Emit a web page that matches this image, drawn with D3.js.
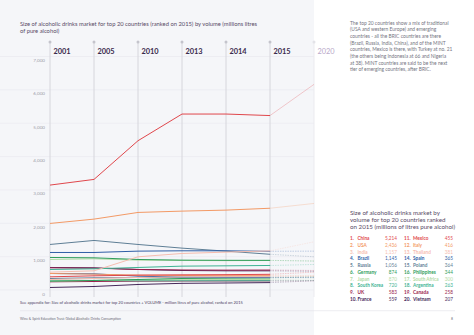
<!DOCTYPE html>
<html>
<head>
<meta charset="utf-8">
<script src="https://cdn.jsdelivr.net/npm/d3@7"></script>
<style>
	body { margin: 0; background: #fff; }
	svg { display: block; font-family: Lato, "Open Sans", sans-serif; }
</style>
</head>
<body>
<svg id="chart" width="474" height="335"></svg>
<script>
// years on the timeline, last one is the projection
const years = ["2001", "2005", "2010", "2013", "2014", "2015", "2020"];
const yTicks = [0, 1000, 2000, 3000, 4000, 5000, 6000, 7000];

const countries = ["China", "USA", "India", "Brazil", "Russia", "Germany", "Japan", "South Korea", "UK", "France",
	"Mexico", "Italy", "Thailand", "Spain", "Poland", "Philippines", "South Africa", "Argentina", "Canada", "Vietnam"];
const volume2015 = [5214, 2436, 1157, 1145, 1056, 874, 870, 720, 583, 559, 455, 416, 381, 365, 364, 344, 300, 263, 258, 207];

// volume per year (millions litres pure alcohol), 2001 .. 2015 + 2020 projection
const china = [3130, 3300, 4460, 5260, 5260, 5214, 6150];
const usa = [1980, 2110, 2310, 2350, 2380, 2436, 2580];
const india = [520, 560, 980, 1080, 1120, 1157, 1430];
const brazil = [1110, 1110, 1150, 1160, 1160, 1145, 1150];
const russia = [1350, 1470, 1350, 1240, 1150, 1056, 980];
const germany = [960, 950, 900, 880, 875, 874, 850];
const japan = [900, 920, 880, 870, 865, 870, 860];
const southKorea = [600, 620, 660, 700, 710, 720, 750];
const uk = [650, 640, 600, 585, 580, 583, 570];
const france = [660, 650, 600, 570, 560, 559, 540];
const mexico = [380, 410, 430, 440, 445, 455, 520];
const italy = [480, 460, 430, 420, 415, 416, 400];
const thailand = [300, 330, 360, 375, 380, 381, 420];
const spain = [480, 470, 400, 370, 365, 365, 360];
const poland = [330, 350, 360, 365, 363, 364, 370];
const philippines = [250, 270, 300, 330, 340, 344, 380];
const southAfrica = [250, 270, 290, 295, 298, 300, 320];
const argentina = [280, 270, 260, 262, 262, 263, 270];
const canada = [230, 240, 250, 255, 257, 258, 265];
const vietnam = [60, 90, 150, 185, 195, 207, 260];

const seriesValues = [china, usa, india, brazil, russia, germany, japan, southKorea, uk, france,
	mexico, italy, thailand, spain, poland, philippines, southAfrica, argentina, canada, vietnam];

const palette = ["#e0474c", "#f39a66", "#f6bdb0", "#2f5ea6", "#5f7f96", "#2f9d5b", "#b3dba6", "#3eb393", "#9a1f4d", "#46295a"];

const paragraph = [
	"The top 20 countries show a mix of traditional",
	"(USA and western Europe) and emerging",
	"countries - all the BRIC countries are there",
	"(Brazil, Russia, India, China), and of the MINT",
	"countries, Mexico is there, with Turkey at no. 21",
	"(the others being Indonesia at 66 and Nigeria",
	"at 38). MINT countries are said to be the next",
	"tier of emerging countries, after BRIC."
];

const svg = d3.select("#chart");

// left panel background
svg.append("rect").attr("x", 0).attr("y", 0).attr("width", 314).attr("height", 335).attr("fill", "#f5f6f9");

const x = d3.scalePoint().domain(years).range([50, 314]);
const y = d3.scaleLinear().domain([0, 7000]).range([289.5, 56]);

// horizontal grid
const grid = svg.append("g").attr("transform", "translate(314,0)")
	.call(d3.axisLeft(y).tickValues(yTicks).tickSize(314).tickFormat(""));
grid.select(".domain").remove();
grid.selectAll(".tick line").attr("stroke", "#e9eaef").attr("stroke-width", 0.7);

// y labels
const yAxis = svg.append("g").attr("transform", "translate(45,0)")
	.call(d3.axisLeft(y).tickValues(yTicks).tickSize(0).tickPadding(0).tickFormat(d3.format(",")));
yAxis.select(".domain").remove();
yAxis.selectAll(".tick text")
	.attr("dy", "5.5")
	.attr("fill", "#9c9ca8")
	.style("font-size", "4.6px")
	.style("font-family", "Lato, sans-serif");

// year markers
const yearG = svg.append("g").selectAll("g").data(years).enter().append("g")
	.attr("transform", d => "translate(" + x(d) + ",0)");
yearG.append("line")
	.attr("y1", 42).attr("y2", 297)
	.attr("stroke", d => d === "2020" ? "#ebebef" : "#d6d6dc")
	.attr("stroke-width", 1);
yearG.append("circle")
	.attr("cy", 42).attr("r", 1.5)
	.attr("fill", d => d === "2020" ? "#e3e3e8" : "#c4c4cc");
yearG.append("text")
	.attr("x", 3.5).attr("y", 54)
	.text(d => d)
	.attr("fill", d => d === "2020" ? "#b9a9c9" : "#3a2a4c")
	.style("font-weight", d => d === "2020" ? 400 : 700)
	.style("font-size", "7.4px");

// lines
const line = d3.line()
	.x((d, i) => x(years[i]))
	.y(d => y(d));
const proj = d3.line()
	.x((d, i) => x(years[i + 5]))
	.y(d => y(d));

const order = d3.range(seriesValues.length).reverse();
const linesG = svg.append("g");
order.forEach(i => {
	const vals = seriesValues[i];
	const color = palette[i % 10];
	linesG.append("path")
		.attr("d", proj(vals.slice(5)))
		.attr("fill", "none")
		.attr("stroke", color)
		.attr("stroke-width", 0.8)
		.attr("stroke-opacity", 0.35)
		.attr("stroke-dasharray", i < 2 ? null : "1.5,1");
	linesG.append("path")
		.attr("d", line(vals.slice(0, 6)))
		.attr("fill", "none")
		.attr("stroke", color)
		.attr("stroke-width", 1);
});

// title
svg.append("text").attr("x", 20).attr("y", 26)
	.attr("fill", "#574a66").style("font-size", "5.8px")
	.text("Size of alcoholic drinks market for top 20 countries (ranked on 2015) by volume (millions litres");
svg.append("text").attr("x", 20).attr("y", 33)
	.attr("fill", "#574a66").style("font-size", "5.8px")
	.text("of pure alcohol)");

// right hand paragraph
svg.append("g").selectAll("text").data(paragraph).enter().append("text")
	.attr("x", 350).attr("y", (d, i) => 24.6 + i * 6.67)
	.attr("fill", "#75757f").style("font-size", "4.9px")
	.text(d => d);

// legend table
const legendTitle = ["Size of alcoholic drinks market by", "volume for top 20 countries ranked", "on 2015 (millions of litres pure alcohol)"];
svg.append("g").selectAll("text").data(legendTitle).enter().append("text")
	.attr("x", 350).attr("y", (d, i) => 214.5 + i * 7)
	.attr("fill", "#574a66").style("font-size", "6.2px")
	.text(d => d);

const rowsG = svg.append("g").selectAll("g").data(countries).enter().append("g")
	.attr("transform", (d, i) => "translate(" + (i < 10 ? 350 : 404) + "," + (240 + (i % 10) * 6.78) + ")")
	.attr("fill", (d, i) => palette[i % 10])
	.style("font-size", "4.7px");
rowsG.append("text").attr("x", 0).style("font-weight", 700).text((d, i) => (i + 1) + ".");
rowsG.append("text").attr("x", (d, i) => i < 10 ? 7.5 : 9).style("font-weight", 700).text(d => d);
rowsG.append("text").attr("x", (d, i) => i < 10 ? 47 : 49).attr("text-anchor", "end")
	.text((d, i) => d3.format(",")(volume2015[i]));

// source note and footer
svg.append("text").attr("x", 20).attr("y", 304)
	.attr("fill", "#4c3d5e").style("font-size", "4px")
	.text("See appendix for: Size of alcoholic drinks market for top 20 countries + VOLUME - million litres of pure alcohol, ranked on 2015");
svg.append("line").attr("x1", 20).attr("x2", 455).attr("y1", 310.7).attr("y2", 310.7)
	.attr("stroke", "#e2e2e7").attr("stroke-width", 0.6);
svg.append("text").attr("x", 20).attr("y", 320.3)
	.attr("fill", "#6d6d78").style("font-size", "3.4px")
	.text("Wine & Spirit Education Trust: Global Alcoholic Drinks Consumption");
svg.append("text").attr("x", 453).attr("y", 320.3).attr("text-anchor", "end")
	.attr("fill", "#6d6d78").style("font-size", "3.4px")
	.text("8");
</script>
</body>
</html>
